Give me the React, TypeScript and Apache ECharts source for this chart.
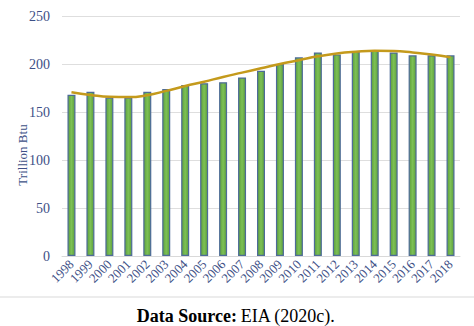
import React, { useEffect, useRef } from "react";
import * as echarts from "echarts";

const years = ["1998","1999","2000","2001","2002","2003","2004","2005","2006","2007","2008","2009","2010","2011","2012","2013","2014","2015","2016","2017","2018"];
const consumption = [168, 171, 165, 165, 171, 174, 178, 180, 181, 186, 193, 200, 207, 212, 210, 213, 214, 212, 209, 209, 209];
const trend = [170.5, 167.8, 165.8, 165.5, 167.5, 172, 177, 181.6, 186.5, 191, 195.5, 200, 204, 208, 211, 212.8, 213.8, 213.5, 212, 210, 207];
const yTicks = [0, 50, 100, 150, 200, 250];

const SERIF = "Liberation Serif, Times New Roman, serif";

export default function App() {
  const ref = useRef<HTMLDivElement>(null);
  useEffect(() => {
    document.body.style.margin = "0";
    const chart = echarts.init(ref.current!, null, { renderer: "svg" });
    const labelColor = "#3d4f86";
    chart.setOption({
      animation: false,
      backgroundColor: "#ffffff",
      grid: { left: 62, right: 14, top: 16, bottom: 70 },
      xAxis: {
        type: "category",
        data: years,
        axisTick: { show: false },
        axisLine: { show: true, lineStyle: { color: "#d9d9d9", width: 1 } },
        axisLabel: {
          rotate: 45,
          interval: 0,
          color: labelColor,
          fontFamily: SERIF,
          fontSize: 13,
          margin: 6,
        },
      },
      yAxis: {
        type: "value",
        min: yTicks[0],
        max: yTicks[yTicks.length - 1],
        interval: 50,
        axisLine: { show: false },
        axisTick: { show: false },
        splitLine: { lineStyle: { color: "#dedede", width: 1 } },
        axisLabel: {
          color: labelColor,
          fontFamily: SERIF,
          fontSize: 14,
          margin: 12,
        },
      },
      graphic: [
        {
          type: "text",
          x: 22,
          y: 155,
          rotation: Math.PI / 2,
          style: {
            text: "Trillion Btu",
            fill: labelColor,
            fontFamily: SERIF,
            fontSize: 13,
            textAlign: "center",
            textVerticalAlign: "middle",
          },
        },
        {
          type: "line",
          shape: { x1: 0, y1: 297, x2: 474, y2: 297 },
          style: { stroke: "#d9d9d9", lineWidth: 1 },
        },
        {
          type: "text",
          x: 236,
          y: 316,
          style: {
            text: "{b|Data Source:} {n|EIA (2020c).}",
            textAlign: "center",
            textVerticalAlign: "middle",
            rich: {
              b: { fontFamily: SERIF, fontSize: 18, fontWeight: "bold", fill: "#000" },
              n: { fontFamily: SERIF, fontSize: 18, fill: "#000" },
            },
          },
        },
      ],
      series: [
        {
          type: "bar",
          data: consumption,
          barWidth: 8,
          itemStyle: {
            color: new echarts.graphic.LinearGradient(0, 0, 1, 0, [
              { offset: 0, color: "#5e9e3c" },
              { offset: 0.5, color: "#7cc155" },
              { offset: 1, color: "#5e9e3c" },
            ]),
            borderColor: "#4d6b98",
            borderWidth: 1.2,
          },
        },
        {
          type: "line",
          data: trend,
          smooth: true,
          showSymbol: false,
          symbol: "none",
          lineStyle: { color: "#c49a1c", width: 2.5 },
          z: 5,
        },
      ],
    });
    return () => chart.dispose();
  }, []);
  return <div ref={ref} style={{ width: 474, height: 326, position: "absolute", left: 0, top: 0 }} />;
}
